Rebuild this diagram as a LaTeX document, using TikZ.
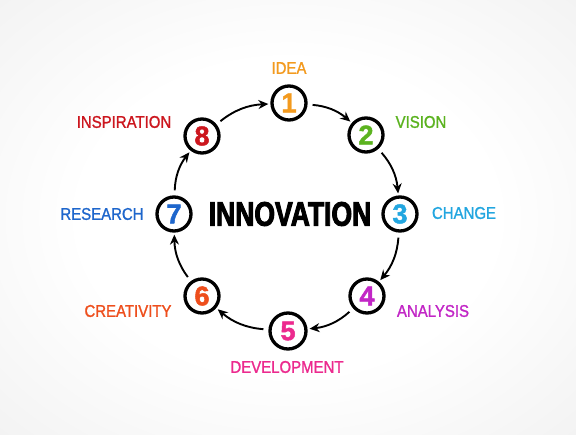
\documentclass[tikz,border=0pt]{standalone}
\usepackage{fontspec}
\usetikzlibrary{arrows.meta}
\newfontfamily\labfont[FakeStretch=0.88,FakeBold=1.2]{Liberation Sans}
\newfontfamily\numfont[FakeBold=1.8]{Liberation Sans Bold}
\newfontfamily\bigfont[FakeStretch=0.78,FakeBold=2.8]{Liberation Sans Bold}
\definecolor{bggray}{HTML}{E9E9E9}
\definecolor{cIdea}{HTML}{F39A1E}
\definecolor{cVision}{HTML}{5BB31F}
\definecolor{cChange}{HTML}{22A6E0}
\definecolor{cAnalysis}{HTML}{C226C6}
\definecolor{cDev}{HTML}{EC2A8E}
\definecolor{cCreat}{HTML}{EE4E1C}
\definecolor{cRes}{HTML}{1E66CC}
\definecolor{cInsp}{HTML}{CC161E}
\pgfdeclareradialshading{bgshade}{\pgfpoint{0bp}{0bp}}{color(0bp)=(white); color(18bp)=(white); color(50bp)=(bggray); color(72bp)=(bggray)}
\begin{document}
\begin{tikzpicture}[x=1pt,y=-1pt,
  numc/.style={circle, draw=black, line width=3.3pt, minimum size=34pt, inner sep=0pt,
    font=\numfont\fontsize{27}{27}\selectfont},
  arr/.style={-{Stealth[length=10pt,width=9pt]}, line width=1.9pt, shorten >=2pt, shorten <=5pt},
  lab/.style={font=\labfont\fontsize{17}{17}\selectfont}]
\useasboundingbox (0,0) rectangle (576,435);
\fill[bggray] (0,0) rectangle (576,435);
\shade[shading=bgshade] (0,0) rectangle (576,435);

\node[numc, text=cIdea] (n1) at (289,103) {1};
\node[numc, text=cVision] (n2) at (366,135) {2};
\node[numc, text=cChange] (n3) at (400,214) {3};
\node[numc, text=cAnalysis] (n4) at (367,296) {4};
\node[numc, text=cDev, minimum size=36pt] (n5) at (288,331) {5};
\node[numc, text=cCreat] (n6) at (202,296) {6};
\node[numc, text=cRes] (n7) at (174,214) {7};
\node[numc, text=cInsp] (n8) at (202,136) {8};

\node[lab, text=cIdea] (l1) at (289,68) {IDEA};
\node[lab, text=cVision] (l2) at (421,122) {VISION};
\node[lab, text=cChange] (l3) at (464,213) {CHANGE};
\node[lab, text=cAnalysis] (l4) at (433,311) {ANALYSIS};
\node[lab, text=cDev] (l5) at (287,367) {DEVELOPMENT};
\node[lab, text=cCreat] (l6) at (128,311) {CREATIVITY};
\node[lab, text=cRes] (l7) at (102,214) {RESEARCH};
\node[lab, text=cInsp] (l8) at (124,122) {INSPIRATION};

\node[font=\bigfont\fontsize{34}{34}\selectfont] (inno) at (290,214) {INNOVATION};

\draw[arr] (n1) to[bend left=18] (n2);
\draw[arr] (n2) to[bend left=18] (n3);
\draw[arr] (n3) to[bend left=18] (n4);
\draw[arr] (n4) to[bend left=18] (n5);
\draw[arr] (n5) to[bend left=18] (n6);
\draw[arr] (n6) to[bend left=18] (n7);
\draw[arr] (n7) to[bend left=18] (n8);
\draw[arr] (n8) to[bend left=18] (n1);
\end{tikzpicture}
\end{document}
